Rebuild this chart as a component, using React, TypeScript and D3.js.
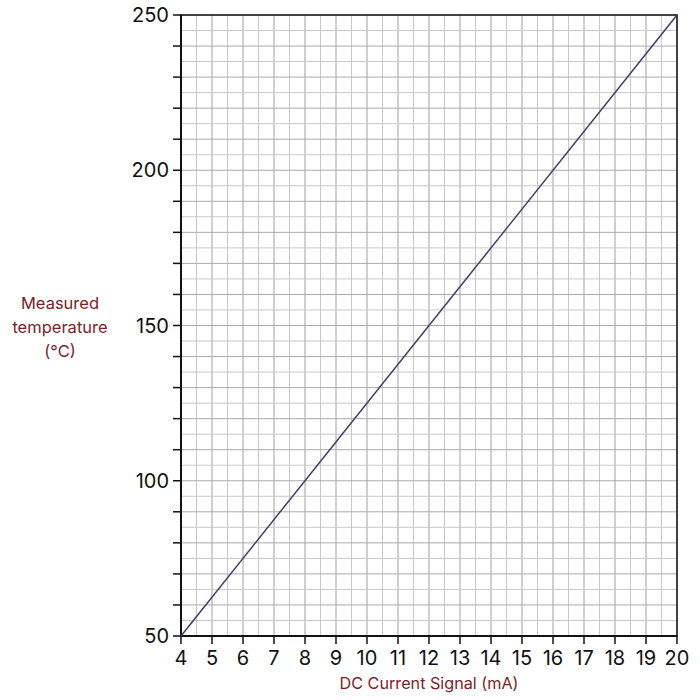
import * as d3 from "d3";

const currentMa = [4, 20];
const temperatureC = [50, 250];
const xTicks = d3.range(4, 21, 1);
const yLabelTicks = [50, 100, 150, 200, 250];

const W = 700;
const H = 700;
const m = { left: 181, right: 23, top: 15, bottom: 64 };

const App = () => {
  const x = d3.scaleLinear().domain([4, 20]).range([m.left, W - m.right]);
  const y = d3.scaleLinear().domain([50, 250]).range([H - m.bottom, m.top]);

  const xMinor = d3.range(4, 20.01, 0.5);
  const yMinor = d3.range(50, 250.01, 5);
  const yTicks = d3.range(50, 250.01, 10);

  const line = d3
    .line<number>()
    .x((d) => x(d))
    .y((_, i) => y(temperatureC[i]));

  const font = "Inter, 'Noto Sans', sans-serif";

  return (
    <svg
      width={W}
      height={H}
      style={{ position: "absolute", left: 0, top: 0, background: "#fff" }}
    >
      <g>
        {xMinor.map((v) => (
          <line
            key={"gx" + v}
            x1={x(v)}
            x2={x(v)}
            y1={y(50)}
            y2={y(250)}
            stroke={Number.isInteger(v) ? "#a0a0a0" : "#c8c8c8"}
            strokeWidth={1}
          />
        ))}
        {yMinor.map((v) => (
          <line
            key={"gy" + v}
            x1={x(4)}
            x2={x(20)}
            y1={y(v)}
            y2={y(v)}
            stroke={v % 10 === 0 ? "#ababab" : "#c8c8c8"}
            strokeWidth={1}
          />
        ))}
      </g>
      <rect
        x={x(4)}
        y={y(250)}
        width={x(20) - x(4)}
        height={y(50) - y(250)}
        fill="none"
        stroke="#111"
        strokeWidth={1.5}
      />
      <line x1={x(4)} x2={x(4)} y1={y(50)} y2={y(250)} stroke="#111" strokeWidth={2} />
      <line x1={x(4)} x2={x(20)} y1={y(50)} y2={y(50)} stroke="#111" strokeWidth={2} />
      <path
        d={line(currentMa) ?? ""}
        fill="none"
        stroke="#3a3d6a"
        strokeWidth={1.5}
      />
      {yTicks.map((v) => (
        <line
          key={"ty" + v}
          x1={x(4) - 8}
          x2={x(4)}
          y1={y(v)}
          y2={y(v)}
          stroke="#111"
          strokeWidth={1.5}
        />
      ))}
      {yLabelTicks.map((v) => (
        <text
          key={"ly" + v}
          x={x(4) - 12}
          y={y(v)}
          dy="0.36em"
          textAnchor="end"
          fontFamily={font}
          fontSize={20}
          fill="#111"
        >
          {v}
        </text>
      ))}
      {xTicks.map((v) => (
        <g key={"tx" + v}>
          <line
            x1={x(v)}
            x2={x(v)}
            y1={y(50)}
            y2={y(50) + 8}
            stroke="#111"
            strokeWidth={1.5}
          />
          <text
            x={x(v)}
            y={y(50) + 29}
            textAnchor="middle"
            fontFamily={font}
            fontSize={20}
            fill="#111"
          >
            {v}
          </text>
        </g>
      ))}
      <text
        x={(x(4) + x(20)) / 2}
        y={689}
        textAnchor="middle"
        fontFamily={font}
        fontSize={16.2}
        fill="#7b1e2a"
      >
        DC Current Signal (mA)
      </text>
      <text textAnchor="middle" fontFamily={font} fontSize={16.5} fill="#7b1e2a">
        <tspan x={60} y={309}>Measured</tspan>
        <tspan x={60} y={333}>temperature</tspan>
        <tspan x={60} y={357}>(°C)</tspan>
      </text>
    </svg>
  );
};

export default App;
